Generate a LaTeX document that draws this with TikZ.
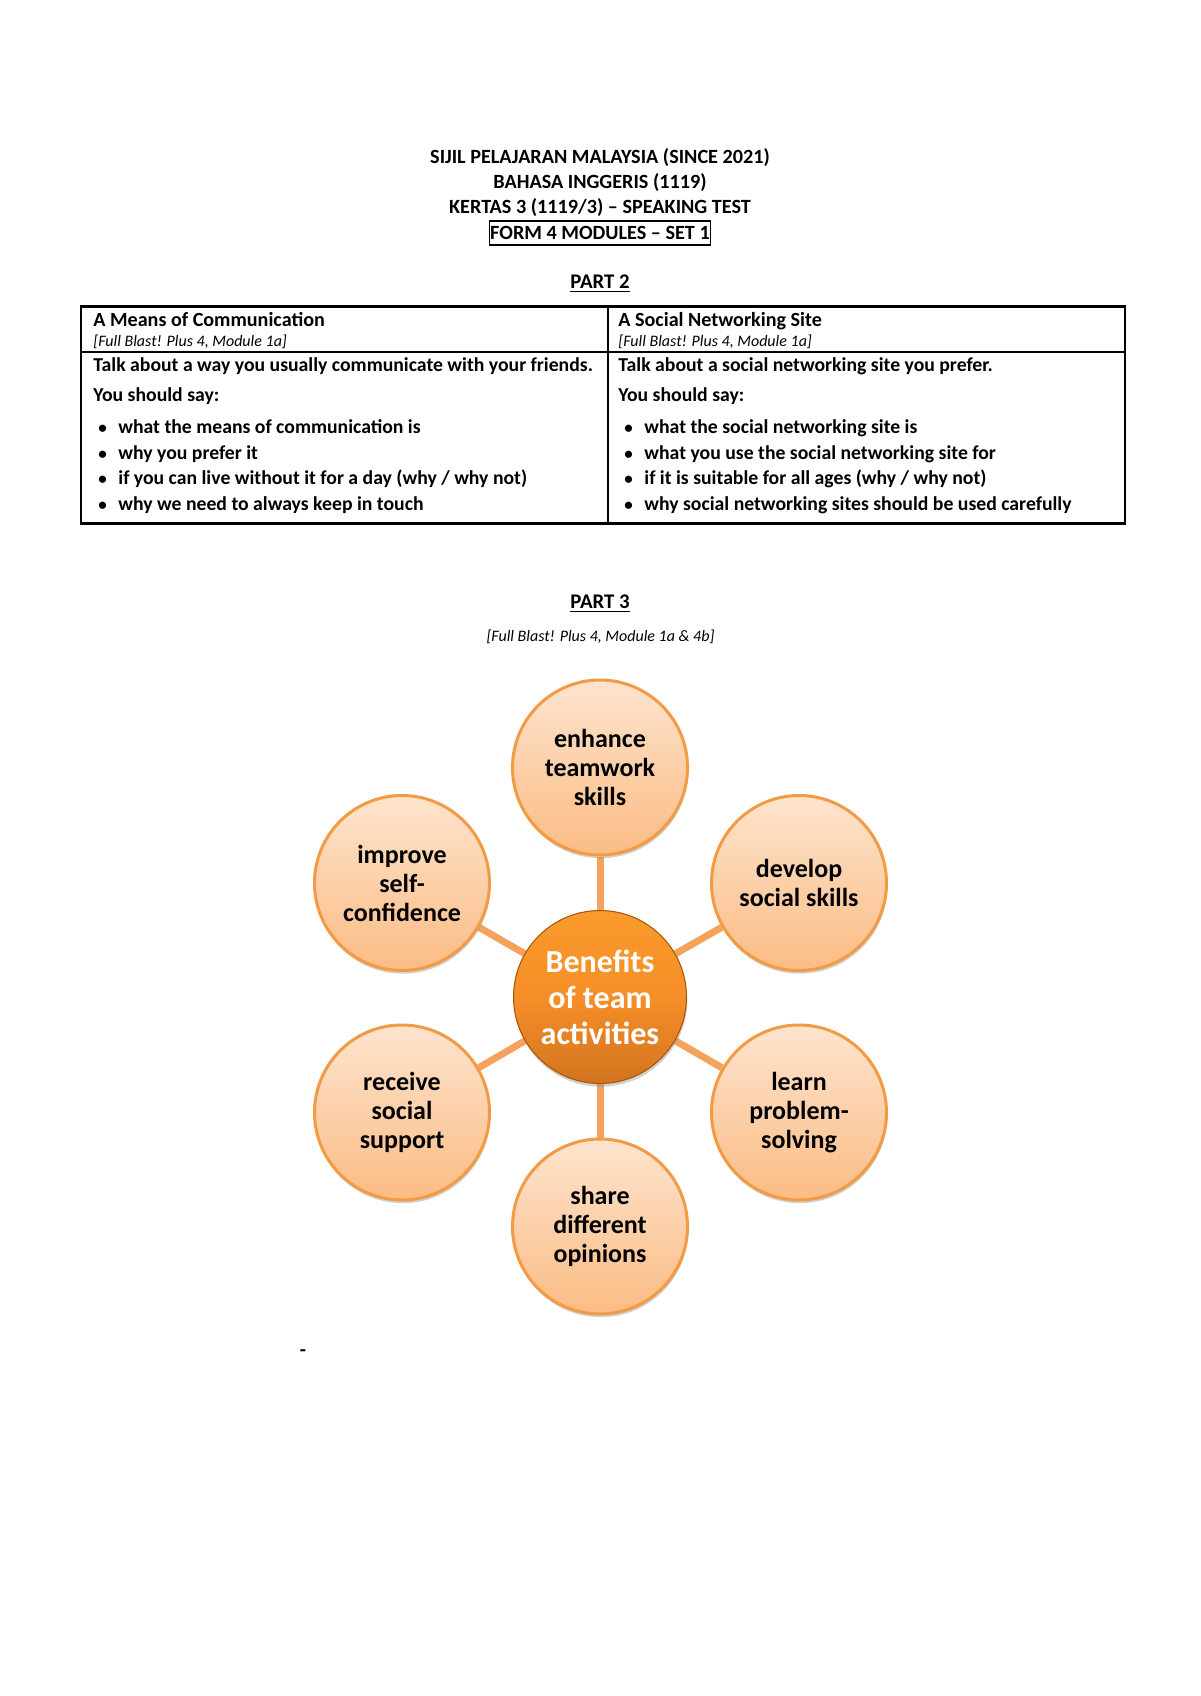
\documentclass[tikz,border=0pt]{standalone}
\usepackage{fontspec}
\setmainfont{Carlito}
\usetikzlibrary{shadows,backgrounds}
\definecolor{petalline}{HTML}{F39A45}
\definecolor{linkline}{HTML}{F4A25C}
\definecolor{petaltop}{HTML}{FDE4CE}
\definecolor{petalbot}{HTML}{FBBC84}
\definecolor{hubtop}{HTML}{FA9A2C}
\definecolor{hubmid}{HTML}{F68E28}
\definecolor{hubbot}{HTML}{D27420}
\tikzset{
 x=0.5pt,y=-0.5pt,
 head/.style={inner sep=0pt,font=\fontsize{10.1}{12}\selectfont\bfseries,anchor=center},
 parthead/.style={inner sep=0pt,font=\fontsize{10.4}{12}\selectfont\bfseries,anchor=center},
 strong/.style={inner sep=0pt,font=\fontsize{9.86}{12}\selectfont\bfseries,anchor=base west},
 small/.style={inner sep=0pt,font=\fontsize{8}{10}\selectfont\itshape,anchor=base west},
 smallc/.style={inner sep=0pt,font=\fontsize{8}{10}\selectfont\itshape,anchor=center},
 petal/.style={circle,minimum size=87.5pt,inner sep=0pt,draw=petalline,line width=1.5pt,
   top color=petaltop,bottom color=petalbot,align=center,
   font=\fontsize{13}{14.5}\selectfont\bfseries,
   drop shadow={shadow xshift=0.4pt,shadow yshift=-1.6pt,fill=black!45,opacity=.4}},
 hub/.style={circle,minimum size=86.5pt,inner sep=0pt,draw=black!35!orange,line width=.5pt,
   top color=hubtop,bottom color=hubbot,middle color=hubmid,align=center,text=white,
   font=\fontsize{16}{18}\selectfont\bfseries,
   drop shadow={shadow xshift=0.4pt,shadow yshift=-1.6pt,fill=black!45,opacity=.4}},
 link/.style={draw=linkline,line width=3.5pt},
 rule/.style={draw=black,line width=1pt},
}
\begin{document}
\begin{tikzpicture}
\useasboundingbox (0,0) rectangle (1200,1696);
% titles
\node[head] (t1) at (600,158) {SIJIL PELAJARAN MALAYSIA (SINCE 2021)};
\node[head] (t2) at (600,183) {BAHASA INGGERIS (1119)};
\node[head] (t3) at (600,208) {KERTAS 3 (1119/3) – SPEAKING TEST};
\node[head,draw=black,line width=.6pt,minimum width=110.5pt,minimum height=12pt] (t4) at (600,233) {FORM 4 MODULES – SET 1};
\node[parthead] (p2) at (600,284) {\underline{PART 2}};
% table
\draw[rule,line width=1.1pt] (81,306.5) rectangle (1125,523.5);
\draw[rule,line width=.7pt] (81,352) -- (1125,352);
\draw[rule,line width=.9pt] (608,306.5) -- (608,523.5);
% left column
\node[strong] (a1) at (93,326.5) {\fontsize{10.05}{12}\selectfont A Means of Communication};
\node[small] (a2) at (93,346) {[Full Blast! Plus 4, Module 1a]};
\node[strong] (a3) at (93,371) {Talk about a way you usually communicate with your friends.};
\node[strong] (a4) at (93,401) {You should say:};
\node[strong] (a5) at (98,433.5) {\makebox[10pt][l]{\fontsize{8.5}{12}\selectfont •}what the means of communication is};
\node[strong] (a6) at (98,459.5) {\makebox[10pt][l]{\fontsize{8.5}{12}\selectfont •}why you prefer it};
\node[strong] (a7) at (98,484.5) {\makebox[10pt][l]{\fontsize{8.5}{12}\selectfont •}if you can live without it for a day (why / why not)};
\node[strong] (a8) at (98,510.5) {\makebox[10pt][l]{\fontsize{8.5}{12}\selectfont •}why we need to always keep in touch};
% right column
\node[strong] (b1) at (618,326.5) {\fontsize{10.05}{12}\selectfont A Social Networking Site};
\node[small] (b2) at (618,346) {[Full Blast! Plus 4, Module 1a]};
\node[strong] (b3) at (618,371) {Talk about a social networking site you prefer.};
\node[strong] (b4) at (618,401) {You should say:};
\node[strong] (b5) at (624,433.5) {\makebox[10pt][l]{\fontsize{8.5}{12}\selectfont •}what the social networking site is};
\node[strong] (b6) at (624,459.5) {\makebox[10pt][l]{\fontsize{8.5}{12}\selectfont •}what you use the social networking site for};
\node[strong] (b7) at (624,484.5) {\makebox[10pt][l]{\fontsize{8.5}{12}\selectfont •}if it is suitable for all ages (why / why not)};
\node[strong] (b8) at (624,510.5) {\makebox[10pt][l]{\fontsize{8.5}{12}\selectfont •}why social networking sites should be used carefully};
% part 3
\node[parthead] (p3) at (600,604) {\underline{PART 3}};
\node[smallc] (p3s) at (600.5,637) {[Full Blast! Plus 4, Module 1a \& 4b]};
% diagram
\node[hub] (c) at (600,997) {Benefits\\of team\\activities};
\node[petal] (n1) at (600,767.5) {enhance\\teamwork\\skills};
\node[petal] (n2) at (799,883) {develop\\social skills};
\node[petal] (n3) at (799,1112.5) {learn\\problem-\\solving};
\node[petal] (n4) at (600,1226.5) {share\\different\\opinions};
\node[petal] (n5) at (402,1112.5) {receive\\social\\support};
\node[petal] (n6) at (402,883) {improve\\self-\\confidence};
\begin{scope}[on background layer]
\foreach \k in {n1,n2,n3,n4,n5,n6} \draw[link] (c) -- (\k);
\end{scope}
\node[head] (d) at (303,1353) {-};
\end{tikzpicture}
\end{document}
